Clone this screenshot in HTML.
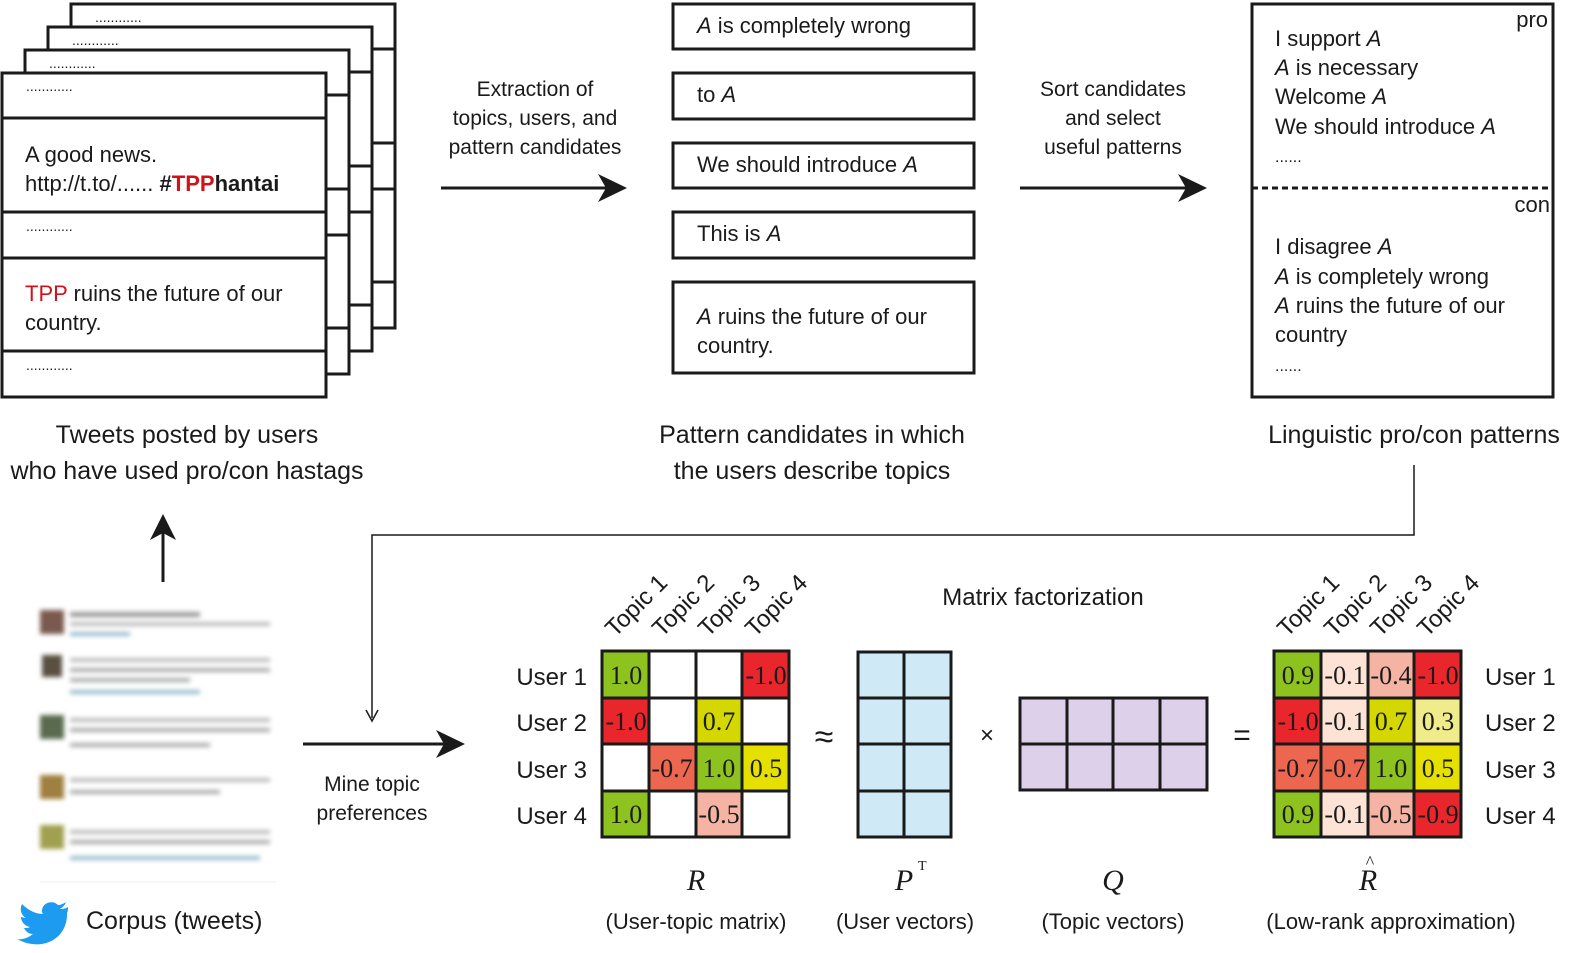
<!DOCTYPE html>
<html><head><meta charset="utf-8"><style>
html,body{margin:0;padding:0;background:#fff}
svg{display:block}
text{font-family:"Liberation Sans",Arial,sans-serif;fill:#1a1a1a}
.s{font-family:"Liberation Serif",serif}
</style></head><body>
<svg width="1576" height="953" viewBox="0 0 1576 953" xmlns="http://www.w3.org/2000/svg">
<defs>
<g id="card">
<rect x="0" y="0" width="324" height="324" fill="#fff" stroke="#1a1a1a" stroke-width="3"/>
<line x1="0" y1="45" x2="324" y2="45" stroke="#1a1a1a" stroke-width="3"/>
<line x1="0" y1="139" x2="324" y2="139" stroke="#1a1a1a" stroke-width="3"/>
<line x1="0" y1="185" x2="324" y2="185" stroke="#1a1a1a" stroke-width="3"/>
<line x1="0" y1="278" x2="324" y2="278" stroke="#1a1a1a" stroke-width="3"/>
</g>
<filter id="bl"><feGaussianBlur stdDeviation="2.5"/></filter>
</defs>

<use href="#card" x="71" y="4"/>
<use href="#card" x="48" y="27"/>
<use href="#card" x="25" y="50"/>
<use href="#card" x="2" y="73"/>
<text x="95" y="22" font-size="14">............</text>
<text x="72" y="45" font-size="14">............</text>
<text x="49" y="68" font-size="14">............</text>
<text x="26" y="91" font-size="14">............</text>
<text x="25" y="162" font-size="22">A good news.</text>
<text x="25" y="191" font-size="22">http://t.to/...... <tspan font-weight="bold">#</tspan><tspan font-weight="bold" style="fill:#d0121b">TPP</tspan><tspan font-weight="bold">hantai</tspan></text>
<text x="26" y="231" font-size="14">............</text>
<text x="25" y="301" font-size="22"><tspan style="fill:#d0121b">TPP</tspan> ruins the future of our</text>
<text x="25" y="330" font-size="22">country.</text>
<text x="26" y="370" font-size="14">............</text>

<text x="187" y="443" font-size="25" text-anchor="middle">Tweets posted by users</text>
<text x="187" y="479" font-size="25" text-anchor="middle">who have used pro/con hastags</text>

<text x="535" y="96" font-size="21" text-anchor="middle">Extraction of</text>
<text x="535" y="125" font-size="21" text-anchor="middle">topics, users, and</text>
<text x="535" y="154" font-size="21" text-anchor="middle">pattern candidates</text>
<line x1="441" y1="188" x2="608" y2="188" stroke="#1a1a1a" stroke-width="3"/>
<path d="M598,174 L627,188 L598,202 L606,188 z" fill="#1a1a1a"/>

<g fill="none" stroke="#1a1a1a" stroke-width="3">
<rect x="673" y="4" width="301" height="45"/>
<rect x="673" y="73" width="301" height="46"/>
<rect x="673" y="143" width="301" height="45"/>
<rect x="673" y="212" width="301" height="46"/>
<rect x="673" y="282" width="301" height="91"/>
</g>
<text x="697" y="33" font-size="22"><tspan font-style="italic">A</tspan> is completely wrong</text>
<text x="697" y="102" font-size="22">to <tspan font-style="italic">A</tspan></text>
<text x="697" y="172" font-size="22">We should introduce <tspan font-style="italic">A</tspan></text>
<text x="697" y="241" font-size="22">This is <tspan font-style="italic">A</tspan></text>
<text x="697" y="324" font-size="22"><tspan font-style="italic">A</tspan> ruins the future of our</text>
<text x="697" y="353" font-size="22">country.</text>
<text x="812" y="443" font-size="25" text-anchor="middle">Pattern candidates in which</text>
<text x="812" y="479" font-size="25" text-anchor="middle">the users describe topics</text>

<text x="1113" y="96" font-size="21" text-anchor="middle">Sort candidates</text>
<text x="1113" y="125" font-size="21" text-anchor="middle">and select</text>
<text x="1113" y="154" font-size="21" text-anchor="middle">useful patterns</text>
<line x1="1020" y1="188" x2="1188" y2="188" stroke="#1a1a1a" stroke-width="3"/>
<path d="M1178,174 L1207,188 L1178,202 L1186,188 z" fill="#1a1a1a"/>

<rect x="1252" y="4" width="301" height="393" fill="none" stroke="#1a1a1a" stroke-width="3"/>
<line x1="1252" y1="188" x2="1553" y2="188" stroke="#1a1a1a" stroke-width="3" stroke-dasharray="6,4"/>
<text x="1548" y="27" font-size="22" text-anchor="end">pro</text>
<text x="1550" y="212" font-size="22" text-anchor="end">con</text>
<text x="1275" y="46" font-size="22">I support <tspan font-style="italic">A</tspan></text>
<text x="1275" y="75" font-size="22"><tspan font-style="italic">A</tspan> is necessary</text>
<text x="1275" y="104" font-size="22">Welcome <tspan font-style="italic">A</tspan></text>
<text x="1275" y="134" font-size="22">We should introduce <tspan font-style="italic">A</tspan></text>
<text x="1275" y="162" font-size="16">......</text>
<text x="1275" y="254" font-size="22">I disagree <tspan font-style="italic">A</tspan></text>
<text x="1275" y="284" font-size="22"><tspan font-style="italic">A</tspan> is completely wrong</text>
<text x="1275" y="313" font-size="22"><tspan font-style="italic">A</tspan> ruins the future of our</text>
<text x="1275" y="342" font-size="22">country</text>
<text x="1275" y="371" font-size="16">......</text>
<text x="1414" y="443" font-size="25" text-anchor="middle">Linguistic pro/con patterns</text>

<polyline points="1414,465 1414,535 372,535 372,718" fill="none" stroke="#1a1a1a" stroke-width="1.5"/>
<path d="M366,710 L372,721 L378,710" fill="none" stroke="#1a1a1a" stroke-width="1.5"/>

<line x1="163" y1="582" x2="163" y2="530" stroke="#1a1a1a" stroke-width="3"/>
<path d="M150,540 L163,514 L176,540 L163,533 z" fill="#1a1a1a"/>

<g filter="url(#bl)">
<rect x="40" y="610" width="24" height="24" fill="#7a5a50"/>
<rect x="70" y="612" width="130" height="5" fill="#999"/>
<rect x="70" y="622" width="200" height="4" fill="#bbb"/>
<rect x="70" y="632" width="60" height="4" fill="#9bc"/>
<rect x="42" y="655" width="20" height="22" fill="#5a5040"/>
<rect x="70" y="658" width="200" height="4" fill="#bbb"/>
<rect x="70" y="668" width="200" height="4" fill="#aaa"/>
<rect x="70" y="678" width="120" height="4" fill="#aaa"/>
<rect x="70" y="690" width="130" height="4" fill="#9bc"/>
<rect x="40" y="715" width="24" height="24" fill="#5a6a50"/>
<rect x="70" y="718" width="200" height="4" fill="#bbb"/>
<rect x="70" y="728" width="200" height="4" fill="#aaa"/>
<rect x="70" y="743" width="140" height="4" fill="#aaa"/>
<rect x="40" y="775" width="24" height="24" fill="#a08040"/>
<rect x="70" y="778" width="200" height="4" fill="#bbb"/>
<rect x="70" y="790" width="150" height="4" fill="#aaa"/>
<rect x="40" y="825" width="24" height="24" fill="#a0a050"/>
<rect x="70" y="830" width="200" height="4" fill="#bbb"/>
<rect x="70" y="840" width="200" height="4" fill="#aaa"/>
<rect x="70" y="856" width="190" height="4" fill="#9bc"/>
</g>
<line x1="40" y1="882" x2="276" y2="882" stroke="#eee" stroke-width="1"/>
<path d="M68,907 C65,909 62,909 60,909 C63,907 65,905 66,902 C63,904 60,905 58,905 C53,900 43,902 42,910 C42,912 42,913 43,914 C34,914 27,909 22,904 C19,910 22,916 26,918 C24,918 22,917 21,917 C21,922 25,926 30,927 C28,928 26,928 24,928 C26,932 29,934 33,934 C28,938 22,940 17,939 C43,953 68,938 67,913 C68,911 68,909 68,907 z" fill="#1d9bf0"/>
<text x="86" y="929" font-size="25">Corpus (tweets)</text>

<line x1="303" y1="744" x2="446" y2="744" stroke="#1a1a1a" stroke-width="3"/>
<path d="M436,730 L465,744 L436,758 L444,744 z" fill="#1a1a1a"/>
<text x="372" y="791" font-size="21" text-anchor="middle">Mine topic</text>
<text x="372" y="820" font-size="21" text-anchor="middle">preferences</text>

<text x="587" y="685" font-size="24" text-anchor="end">User 1</text>
<text x="587" y="731" font-size="24" text-anchor="end">User 2</text>
<text x="587" y="778" font-size="24" text-anchor="end">User 3</text>
<text x="587" y="824" font-size="24" text-anchor="end">User 4</text>

<text font-size="24" transform="translate(615,638) rotate(-45)">Topic 1</text>
<text font-size="24" transform="translate(662,638) rotate(-45)">Topic 2</text>
<text font-size="24" transform="translate(708,638) rotate(-45)">Topic 3</text>
<text font-size="24" transform="translate(755,638) rotate(-45)">Topic 4</text>

<g stroke="none">
<rect x="602" y="651" width="47" height="47" fill="#8dc21f"/>
<rect x="742" y="651" width="47" height="47" fill="#e8262b"/>
<rect x="602" y="698" width="47" height="46" fill="#e8262b"/>
<rect x="696" y="698" width="46" height="46" fill="#d4d800"/>
<rect x="649" y="744" width="47" height="47" fill="#ec6650"/>
<rect x="696" y="744" width="46" height="47" fill="#8dc21f"/>
<rect x="742" y="744" width="47" height="47" fill="#e6e000"/>
<rect x="602" y="791" width="47" height="46" fill="#8dc21f"/>
<rect x="696" y="791" width="46" height="46" fill="#f5b3a3"/>
</g>
<g stroke="#1a1a1a" stroke-width="3" fill="none">
<rect x="602" y="651" width="187" height="186"/>
<line x1="649" y1="651" x2="649" y2="837"/><line x1="696" y1="651" x2="696" y2="837"/><line x1="742" y1="651" x2="742" y2="837"/>
<line x1="602" y1="698" x2="789" y2="698"/><line x1="602" y1="744" x2="789" y2="744"/><line x1="602" y1="791" x2="789" y2="791"/>
</g>
<g font-size="26" text-anchor="middle">
<text class="s" x="626" y="684">1.0</text><text class="s" x="766" y="684">-1.0</text>
<text class="s" x="626" y="730">-1.0</text><text class="s" x="719" y="730">0.7</text>
<text class="s" x="672" y="777">-0.7</text><text class="s" x="719" y="777">1.0</text><text class="s" x="766" y="777">0.5</text>
<text class="s" x="626" y="823">1.0</text><text class="s" x="719" y="823">-0.5</text>
</g>

<text x="824" y="748" font-size="34" text-anchor="middle">≈</text>

<rect x="858" y="652" width="93" height="185" fill="#cfe9f7"/>
<g stroke="#1a1a1a" stroke-width="3" fill="none">
<rect x="858" y="652" width="93" height="185"/>
<line x1="904" y1="652" x2="904" y2="837"/>
<line x1="858" y1="698" x2="951" y2="698"/><line x1="858" y1="744" x2="951" y2="744"/><line x1="858" y1="791" x2="951" y2="791"/>
</g>
<text x="987" y="743" font-size="24" text-anchor="middle">×</text>

<rect x="1020" y="698" width="187" height="92" fill="#dcd0ea"/>
<g stroke="#1a1a1a" stroke-width="3" fill="none">
<rect x="1020" y="698" width="187" height="92"/>
<line x1="1067" y1="698" x2="1067" y2="790"/><line x1="1113" y1="698" x2="1113" y2="790"/><line x1="1160" y1="698" x2="1160" y2="790"/>
<line x1="1020" y1="744" x2="1207" y2="744"/>
</g>
<text x="1242" y="745" font-size="30" text-anchor="middle">=</text>
<text x="1043" y="605" font-size="24" text-anchor="middle">Matrix factorization</text>

<text font-size="24" transform="translate(1287,638) rotate(-45)">Topic 1</text>
<text font-size="24" transform="translate(1334,638) rotate(-45)">Topic 2</text>
<text font-size="24" transform="translate(1380,638) rotate(-45)">Topic 3</text>
<text font-size="24" transform="translate(1427,638) rotate(-45)">Topic 4</text>

<g>
<rect x="1274" y="651" width="47" height="47" fill="#8dc21f"/>
<rect x="1321" y="651" width="47" height="47" fill="#fde3d6"/>
<rect x="1368" y="651" width="46" height="47" fill="#f5b3a3"/>
<rect x="1414" y="651" width="47" height="47" fill="#e8262b"/>
<rect x="1274" y="698" width="47" height="46" fill="#e8262b"/>
<rect x="1321" y="698" width="47" height="46" fill="#fde3d6"/>
<rect x="1368" y="698" width="46" height="46" fill="#d4d800"/>
<rect x="1414" y="698" width="47" height="46" fill="#f0ec8c"/>
<rect x="1274" y="744" width="47" height="47" fill="#ec6650"/>
<rect x="1321" y="744" width="47" height="47" fill="#ec6650"/>
<rect x="1368" y="744" width="46" height="47" fill="#8dc21f"/>
<rect x="1414" y="744" width="47" height="47" fill="#e6e000"/>
<rect x="1274" y="791" width="47" height="46" fill="#8dc21f"/>
<rect x="1321" y="791" width="47" height="46" fill="#fde3d6"/>
<rect x="1368" y="791" width="46" height="46" fill="#f5b3a3"/>
<rect x="1414" y="791" width="47" height="46" fill="#e8262b"/>
</g>
<g stroke="#1a1a1a" stroke-width="3" fill="none">
<rect x="1274" y="651" width="187" height="186"/>
<line x1="1321" y1="651" x2="1321" y2="837"/><line x1="1368" y1="651" x2="1368" y2="837"/><line x1="1414" y1="651" x2="1414" y2="837"/>
<line x1="1274" y1="698" x2="1461" y2="698"/><line x1="1274" y1="744" x2="1461" y2="744"/><line x1="1274" y1="791" x2="1461" y2="791"/>
</g>
<g font-size="26" text-anchor="middle">
<text class="s" x="1298" y="684">0.9</text><text class="s" x="1345" y="684">-0.1</text><text class="s" x="1391" y="684">-0.4</text><text class="s" x="1438" y="684">-1.0</text>
<text class="s" x="1298" y="730">-1.0</text><text class="s" x="1345" y="730">-0.1</text><text class="s" x="1391" y="730">0.7</text><text class="s" x="1438" y="730">0.3</text>
<text class="s" x="1298" y="777">-0.7</text><text class="s" x="1345" y="777">-0.7</text><text class="s" x="1391" y="777">1.0</text><text class="s" x="1438" y="777">0.5</text>
<text class="s" x="1298" y="823">0.9</text><text class="s" x="1345" y="823">-0.1</text><text class="s" x="1391" y="823">-0.5</text><text class="s" x="1438" y="823">-0.9</text>
</g>
<text x="1485" y="685" font-size="24">User 1</text>
<text x="1485" y="731" font-size="24">User 2</text>
<text x="1485" y="778" font-size="24">User 3</text>
<text x="1485" y="824" font-size="24">User 4</text>

<text class="s" x="696" y="890" font-size="30" font-style="italic" text-anchor="middle">R</text>
<text class="s" x="904" y="890" font-size="30" font-style="italic" text-anchor="middle">P</text>
<text class="s" x="918" y="870" font-size="14">T</text>
<text class="s" x="1113" y="890" font-size="30" font-style="italic" text-anchor="middle">Q</text>
<text class="s" x="1368" y="890" font-size="30" font-style="italic" text-anchor="middle">R</text>
<text class="s" x="1370" y="868" font-size="18" text-anchor="middle">^</text>
<text x="696" y="929" font-size="22" text-anchor="middle">(User-topic matrix)</text>
<text x="905" y="929" font-size="22" text-anchor="middle">(User vectors)</text>
<text x="1113" y="929" font-size="22" text-anchor="middle">(Topic vectors)</text>
<text x="1391" y="929" font-size="22" text-anchor="middle">(Low-rank approximation)</text>
</svg>
</body></html>
